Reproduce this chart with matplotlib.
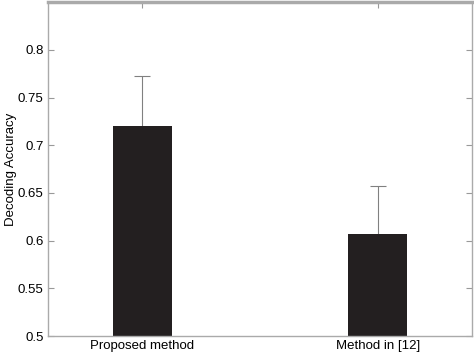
import matplotlib
matplotlib.use("Agg")
import matplotlib.pyplot as plt

# Данные
methods = ["Proposed method", "Method in [12]"]
accuracy = [0.72, 0.607]
err_up = [0.053, 0.050]

plt.rcParams["font.family"] = ["Liberation Sans", "DejaVu Sans"]

fig = plt.figure(figsize=(4.74, 3.56), dpi=100)
ax = fig.add_axes([0.101, 0.056, 0.895, 0.938])

pos = [1, 2]
ax.bar(pos, accuracy, width=0.25, color="#231f20", zorder=2)
# только верхняя ошибка, нижний «ус» прячется под столбцом
ax.errorbar(pos, accuracy, yerr=[[0.005, 0.005], err_up], fmt="none",
            ecolor="#808080", elinewidth=0.8, capsize=6, capthick=0.8, zorder=1)

ax.set_xlim(0.6, 2.4)
ax.set_ylim(0.5, 0.85)
ax.set_xticks(pos)
ax.set_xticklabels(methods)
ax.set_yticks([0.5, 0.55, 0.6, 0.65, 0.7, 0.75, 0.8])
ax.set_yticklabels(["0.5", "0.55", "0.6", "0.65", "0.7", "0.75", "0.8"])
ax.set_ylabel("Decoding Accuracy", fontsize=9.5, labelpad=0.5)

ax.tick_params(direction="in", top=True, right=True, length=4,
               color="#999999", labelsize=9.5, pad=3)
for s in ax.spines.values():
    s.set_color("#aaaaaa")
    s.set_linewidth(1.0)
ax.spines["top"].set_linewidth(2.5)

fig.savefig("out.png", dpi=100)
